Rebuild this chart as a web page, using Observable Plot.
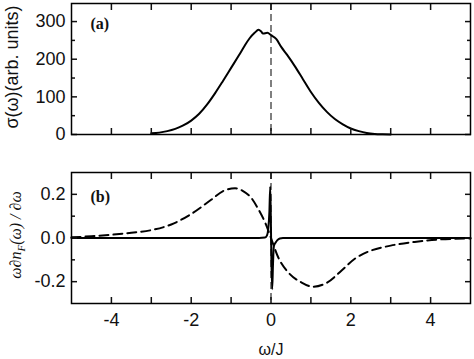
<!DOCTYPE html>
<html><head><meta charset="utf-8">
<script src="https://cdn.jsdelivr.net/npm/d3@7"></script>
<script src="https://cdn.jsdelivr.net/npm/@observablehq/plot@0.6"></script>
<style>
body{margin:0;background:#fff}
#c{position:relative;width:474px;height:359px;overflow:hidden;background:#fff}
#c svg{position:absolute;left:0}
</style>
</head><body><div id="c"></div>
<script>
// Panel (a): sigma(omega)
const omegaA = [-3.0,-2.8,-2.6,-2.4,-2.2,-2.0,-1.8,-1.6,-1.4,-1.2,-1.0,-0.8,-0.66,-0.54,-0.41,-0.31,-0.25,-0.2,-0.09,0.0,0.13,0.26,0.4,0.6,0.8,1.0,1.2,1.4,1.6,1.8,2.0,2.2,2.4,2.6,2.8,3.0];
const sigmaA = [3,5,9,15,24,37,55,80,110,143,177,211,236,255,270,278,274,268,270,264,254,232,212,181,147,113,84,60,41,27,16,9,4,1.5,0.5,0];
// Panel (b): dashed curve
const omegaDash = [-5.0,-4.5,-4.0,-3.5,-3.0,-2.5,-2.0,-1.5,-1.2,-0.9,-0.7,-0.5,-0.33,-0.12,0,0.18,0.43,0.76,1.05,1.4,1.77,2.1,2.5,3.0,3.6,4.2,5.0];
const valueDash = [0.003,0.008,0.015,0.024,0.036,0.062,0.11,0.175,0.215,0.228,0.215,0.185,0.136,0.059,0,-0.088,-0.157,-0.203,-0.223,-0.205,-0.149,-0.095,-0.058,-0.035,-0.018,-0.007,-0.002];
// Panel (b): solid curve
const omegaSolid = [-5,-0.3,-0.15,-0.1,-0.07,-0.04,-0.02,-0.005,0.01,0.03,0.05,0.07,0.09,0.12,0.16,0.22,0.3,5];
const valueSolid = [0,0,0.002,0.012,0.04,0.12,0.235,0.1,-0.1,-0.235,-0.12,-0.04,-0.028,-0.02,-0.01,-0.002,0,0];
// Ticks
const xTickAll = [-4,-3,-2,-1,0,1,2,3,4];
const xTickLabels = [-4,-2,0,2,4];
const yTicksA = [0,100,200,300];
const yMinorA = [50,150,250];
const yTicksB = [-0.2,0.0,0.2];
const yMinorB = [-0.1,0.1];

const dataA = omegaA.map((w,i)=>({w, s: sigmaA[i]}));
const dataDash = omegaDash.map((w,i)=>({w, v: valueDash[i]}));
const dataSolid = omegaSolid.map((w,i)=>({w, v: valueSolid[i]}));

const style = {fontFamily:"'Liberation Sans', Arial, sans-serif", fontSize:"18px", color:"#111", background:"transparent", overflow:"visible"};
const blank = () => "";

function frameTicks(yMajor, yMinor) {
  return [
    Plot.axisX(xTickAll, {anchor:"bottom", tickSize:6, dy:-6, tickFormat:blank, label:null, strokeWidth:1.5}),
    Plot.axisX(xTickAll, {anchor:"top", tickSize:6, dy:6, tickFormat:blank, label:null, strokeWidth:1.5}),
    Plot.axisY(yMajor, {anchor:"left", tickSize:6, dx:6, tickFormat:blank, label:null, strokeWidth:1.5}),
    Plot.axisY(yMinor, {anchor:"left", tickSize:4, dx:4, tickFormat:blank, label:null, strokeWidth:1.5}),
    Plot.axisY(yMajor, {anchor:"right", tickSize:6, dx:-6, tickFormat:blank, label:null, strokeWidth:1.5}),
    Plot.axisY(yMinor, {anchor:"right", tickSize:4, dx:-4, tickFormat:blank, label:null, strokeWidth:1.5})
  ];
}

const plotA = Plot.plot({
  width:474, height:140,
  marginTop:3, marginBottom:6, marginLeft:71, marginRight:4,
  style,
  x:{domain:[-5,5]},
  y:{domain:[0,348]},
  marks:[
    Plot.ruleX([0], {stroke:"#555", strokeWidth:1.5, strokeDasharray:"7,4"}),
    Plot.line(dataA, {x:"w", y:"s", stroke:"#000", strokeWidth:2, curve:"monotone-x"}),
    ...frameTicks(yTicksA, yMinorA),
    Plot.axisY(yTicksA, {anchor:"left", tickSize:0, tickPadding:6, label:null, tickFormat:d=>String(d)}),
    Plot.frame({stroke:"#000", strokeWidth:1.5}),
    Plot.text(["(a)"], {frameAnchor:"top-left", dx:19, dy:20, fontFamily:"'Liberation Serif', 'Times New Roman', serif", fontWeight:"bold", fontSize:16, lineAnchor:"middle", textAnchor:"start"}),
    Plot.text(["σ(ω)(arb. units)"], {frameAnchor:"left", dx:-59, dy:-2, rotate:-90, fontSize:18, lineAnchor:"middle", textAnchor:"middle"})
  ]
});
plotA.style.top = "0px";

const plotB = Plot.plot({
  width:474, height:219,
  marginTop:32, marginBottom:56, marginLeft:71, marginRight:4,
  style,
  x:{domain:[-5,5]},
  y:{domain:[-0.3,0.3]},
  marks:[
    Plot.ruleX([0], {stroke:"#555", strokeWidth:1.5, strokeDasharray:"7,4"}),
    Plot.line(dataSolid, {x:"w", y:"v", stroke:"#000", strokeWidth:2, curve:"monotone-x"}),
    Plot.line(dataDash, {x:"w", y:"v", stroke:"#000", strokeWidth:2, strokeDasharray:"9,5", curve:"monotone-x"}),
    ...frameTicks(yTicksB, yMinorB),
    Plot.axisY(yTicksB, {anchor:"left", tickSize:0, tickPadding:6, label:null, tickFormat:d=>d.toFixed(1)}),
    Plot.axisX(xTickLabels, {anchor:"bottom", tickSize:0, tickPadding:10, label:null, tickFormat:d=>String(d)}),
    Plot.frame({stroke:"#000", strokeWidth:1.5}),
    Plot.text(["(b)"], {frameAnchor:"top-left", dx:19, dy:24, fontFamily:"'Liberation Serif', 'Times New Roman', serif", fontWeight:"bold", fontSize:16, lineAnchor:"middle", textAnchor:"start"}),
    Plot.text(["ω/J"], {frameAnchor:"bottom", dy:46, fontSize:16, lineAnchor:"middle", textAnchor:"middle"})
  ]
});
plotB.style.top = "140px";

// y label for panel (b) with subscript
const svgB = d3.select(plotB);
const lab = svgB.append("text")
  .attr("transform", "translate(15,95) rotate(-90)")
  .attr("text-anchor", "middle")
  .attr("dominant-baseline", "central")
  .style("font-family", "'Liberation Serif', 'Times New Roman', serif")
  .style("font-style", "italic")
  .style("font-size", "16px")
  .attr("fill", "#111");
lab.append("tspan").text("ω∂n");
lab.append("tspan").attr("baseline-shift", "sub").style("font-size", "11px").text("F");
lab.append("tspan").text("(ω) / ∂ω");

const c = document.getElementById("c");
c.appendChild(plotA);
c.appendChild(plotB);
</script>
</body></html>
